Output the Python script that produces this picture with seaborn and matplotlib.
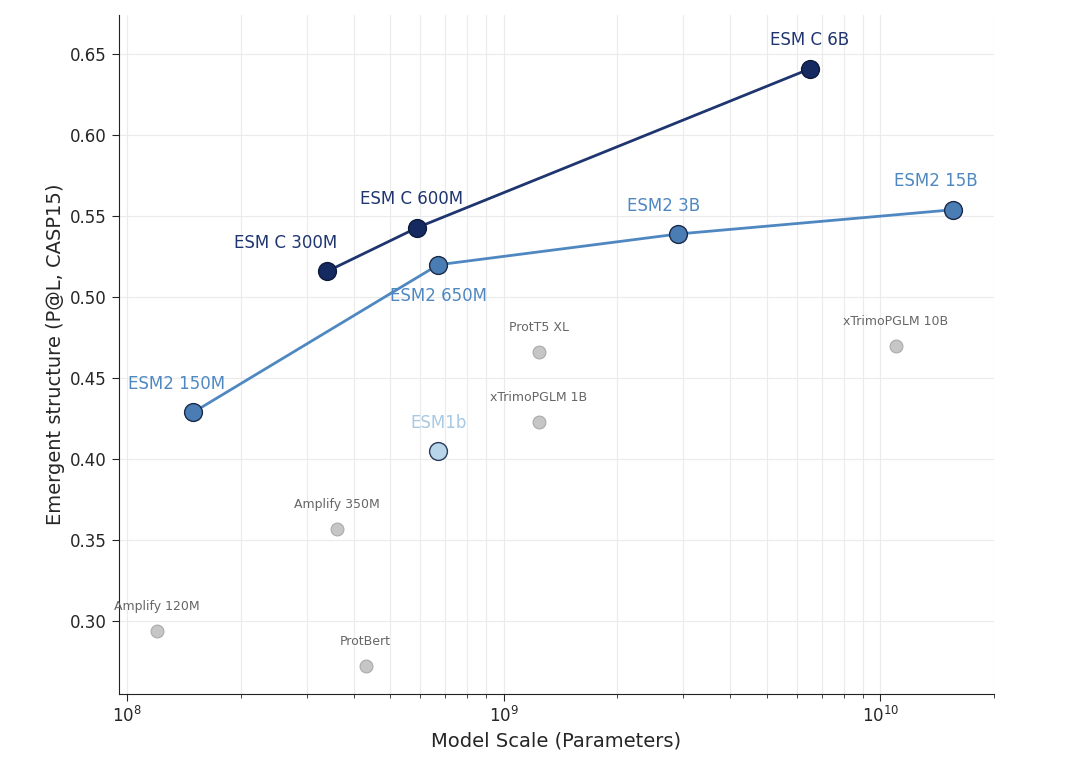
import matplotlib
matplotlib.use("Agg")
import matplotlib.pyplot as plt
import seaborn as sns
import pandas as pd

escm_names = ["ESM C 300M", "ESM C 600M", "ESM C 6B"]
escm_x = [3.4e8, 5.9e8, 6.5e9]
escm_y = [0.516, 0.543, 0.641]

esm2_names = ["ESM2 150M", "ESM2 650M", "ESM2 3B", "ESM2 15B"]
esm2_x = [1.5e8, 6.7e8, 2.9e9, 1.56e10]
esm2_y = [0.429, 0.520, 0.539, 0.554]

esm1b_x = [6.7e8]
esm1b_y = [0.405]

other_names = ["Amplify 120M", "Amplify 350M", "ProtBert", "ProtT5 XL", "xTrimoPGLM 1B", "xTrimoPGLM 10B"]
other_x = [1.2e8, 3.6e8, 4.3e8, 1.24e9, 1.24e9, 1.1e10]
other_y = [0.294, 0.357, 0.272, 0.466, 0.423, 0.470]

sns.set_style("white")
fig, ax = plt.subplots(figsize=(10.8, 7.71), dpi=100)
fig.subplots_adjust(left=0.11, right=0.92, bottom=0.1, top=0.98)

ax.grid(True, which="both", axis="x", color="#ebebeb", lw=0.8)
ax.grid(True, which="major", axis="y", color="#ebebeb", lw=0.8)
ax.set_axisbelow(True)

dark = "#1f3570"; darkm = "#142a60"
mid = "#4f88c0"; midm = "#4a7db3"
light = "#b9d5ea"

sns.scatterplot(x=other_x, y=other_y, ax=ax, s=85, color="#c6c6c6", edgecolor="#aaaaaa", linewidth=0.8, zorder=3)
for n, x, y in zip(other_names, other_x, other_y):
    ax.annotate(n, (x, y), xytext=(0, 13), textcoords="offset points", ha="center", va="bottom", fontsize=9, color="#666666")

sns.lineplot(x=esm2_x, y=esm2_y, ax=ax, color=mid, lw=2, zorder=2)
sns.scatterplot(x=esm2_x, y=esm2_y, ax=ax, s=165, color=midm, edgecolor="#1a2a4a", linewidth=1, zorder=4)
offs2 = [(-12, 14), (0, -16), (-10, 14), (-12, 14)]
for n, x, y, o in zip(esm2_names, esm2_x, esm2_y, offs2):
    ax.annotate(n, (x, y), xytext=o, textcoords="offset points", ha="center", va="bottom" if o[1] > 0 else "top", fontsize=12, color=mid)

sns.lineplot(x=escm_x, y=escm_y, ax=ax, color=dark, lw=2, zorder=2)
sns.scatterplot(x=escm_x, y=escm_y, ax=ax, s=165, color=darkm, edgecolor="#0d1a3a", linewidth=1, zorder=5)
offsc = [(-30, 14), (-4, 14), (0, 14)]
for n, x, y, o in zip(escm_names, escm_x, escm_y, offsc):
    ax.annotate(n, (x, y), xytext=o, textcoords="offset points", ha="center", va="bottom", fontsize=12, color=dark)

sns.scatterplot(x=esm1b_x, y=esm1b_y, ax=ax, s=165, color=light, edgecolor="#2a3a5a", linewidth=1, zorder=4)
ax.annotate("ESM1b", (esm1b_x[0], esm1b_y[0]), xytext=(0, 14), textcoords="offset points", ha="center", va="bottom", fontsize=12, color="#a7c9e4")

ax.set_xscale("log")
ax.set_xlim(0.95e8, 2e10)
ax.set_ylim(0.255, 0.674)
ax.set_yticks([0.30, 0.35, 0.40, 0.45, 0.50, 0.55, 0.60, 0.65])
ax.set_yticklabels([f"{v:.2f}" for v in ax.get_yticks()])
ax.tick_params(labelsize=12, which="both", bottom=True, left=True)
ax.tick_params(which="major", length=5)
ax.tick_params(which="minor", length=3)
ax.set_xlabel("Model Scale (Parameters)", fontsize=14)
ax.set_ylabel("Emergent structure (P@L, CASP15)", fontsize=14)
for s in ["top", "right"]:
    ax.spines[s].set_visible(False)
for s in ["left", "bottom"]:
    ax.spines[s].set_color("#222222")

fig.savefig("out.png", dpi=100)
